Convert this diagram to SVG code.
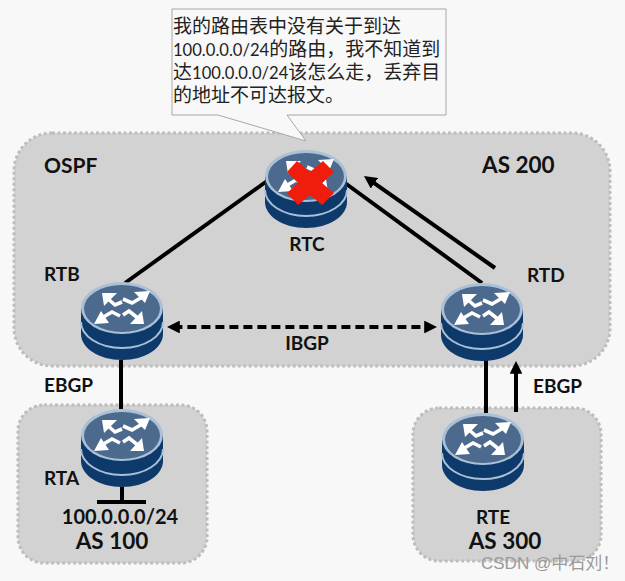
<svg xmlns="http://www.w3.org/2000/svg" width="625" height="581" viewBox="0 0 625 581">
<style>
text{font-family:"Lato","Open Sans","Liberation Sans",sans-serif;fill:#111;font-weight:700;font-size:19px}
.m{text-anchor:middle}
.big{font-size:22.5px}
.area{fill:#d2d2d2;stroke:#bdbdbd;stroke-width:3;stroke-dasharray:3 2.5}
.cn{font-family:"Noto Sans CJK SC",sans-serif;font-weight:400;font-size:19px;fill:#222}
.lat{font-family:"Lato",sans-serif;font-size:16.6px}
.l{stroke:#000;stroke-width:4;fill:none}
.ic{stroke:#fff;stroke-width:3.6;fill:none}
</style>
<defs>
<marker id="a" viewBox="0 0 10 10" refX="5" refY="5" markerWidth="3.2" markerHeight="3.2" orient="auto-start-reverse"><path d="M0 0L10 5L0 10z" fill="#000"/></marker>
<g id="router">
<path d="M-41 0V26C-41 40 -23 52 0 52C23 52 41 40 41 26V0z" fill="#0d3a6b"/>
<path d="M-41 14C-41 28 -23 40 0 40C23 40 41 28 41 14" fill="none" stroke="#a9c0d6" stroke-width="2"/>
<ellipse cx="0" cy="0" rx="41" ry="26" fill="#a9c0d6"/>
<ellipse cx="0" cy="0.5" rx="38" ry="23.5" fill="#4c6a8e"/>
<polyline class="ic" points="22,-12 10,-5 1,-9"/>
<polyline class="ic" points="-15,-10 -7,-3 0,-6"/>
<polyline class="ic" points="-22,11 -10,4 -2,8"/>
<polyline class="ic" points="17,11 7,3 1,7"/>
<g fill="#fff">
<path d="M28 -17L12 -16L23 -5z"/>
<path d="M-20 -15L-5 -15L-18 -2z"/>
<path d="M-28 16L-21 3L-13 15z"/>
<path d="M22 16L8 16L20 3z"/>
</g>
</g>
</defs>
<rect width="625" height="581" fill="#f8f8f8"/>
<g id="areas">
<rect id="as200" class="area" x="14" y="133" width="596" height="233" rx="38"/>
<rect id="as100" class="area" x="18" y="405" width="189" height="158" rx="26"/>
<rect id="as300" class="area" x="413" y="408" width="188" height="153" rx="26"/>
</g>
<g id="connectors">
<line class="l" x1="267" y1="181" x2="125" y2="283"/>
<line class="l" x1="345" y1="183" x2="482" y2="283"/>
<line class="l" x1="121" y1="360" x2="121" y2="409"/>
<line class="l" x1="486" y1="360" x2="486" y2="413"/>
<line class="l" x1="122" y1="487" x2="122" y2="501"/>
<line class="l" x1="97" y1="502" x2="146" y2="502"/>
<line class="l" x1="495" y1="268" x2="369.2" y2="179.7" marker-end="url(#a)"/>
<line class="l" x1="516" y1="412" x2="516" y2="367.4" marker-end="url(#a)"/>
<line class="l" x1="173.4" y1="327" x2="430.6" y2="327" stroke-dasharray="9 5" marker-start="url(#a)" marker-end="url(#a)"/>
</g>
<g id="callout">
<path d="M172 9H446V115H287L306 141L218 115H172z" fill="#f8f8f8" stroke="#a8a8a8" stroke-width="1"/>
<text class="cn" x="173" y="33">我的路由表中没有关于到达</text>
<text class="cn" x="173" y="56"><tspan class="lat">100.0.0.0/24</tspan>的路由，我不知道到</text>
<text class="cn" x="173" y="79">达<tspan class="lat">100.0.0.0/24</tspan>该怎么走，丢弃目</text>
<text class="cn" x="173" y="102">的地址不可达报文。</text>
</g>
<g id="RTC"><use href="#router" x="306" y="176"/>
<path d="M297 161L310 172L323 161L334 172L322 183L334 193L322 205L310 195L298 205L287 193L298 183L287 172z" fill="#f01c0c"/>
<text class="m" x="307" y="251">RTC</text></g>
<g id="RTB"><use href="#router" x="122" y="308"/><text x="44" y="281">RTB</text></g>
<g id="RTD"><use href="#router" x="482" y="309"/><text x="527" y="282">RTD</text></g>
<g id="RTA"><use href="#router" x="122" y="435"/><text x="44" y="485">RTA</text></g>
<g id="RTE"><use href="#router" x="483" y="439"/><text class="m" x="493" y="524">RTE</text></g>
<g id="labels">
<text x="44" y="173" style="font-size:21px">OSPF</text>
<text class="big" x="482" y="173">AS 200</text>
<text class="m" x="307" y="350">IBGP</text>
<text x="44" y="392">EBGP</text>
<text x="533" y="393">EBGP</text>
<text class="m" x="120" y="524" style="font-size:20px">100.0.0.0/24</text>
<text class="m big" x="112" y="549">AS 100</text>
<text class="m big" x="505" y="549">AS 300</text>
</g>
<text id="wm" x="481" y="569" style="font-family:'Liberation Sans','Noto Sans CJK SC',sans-serif;font-size:17px;font-weight:400;fill:#9a9a9a">CSDN @中石刘！</text>
</svg>
